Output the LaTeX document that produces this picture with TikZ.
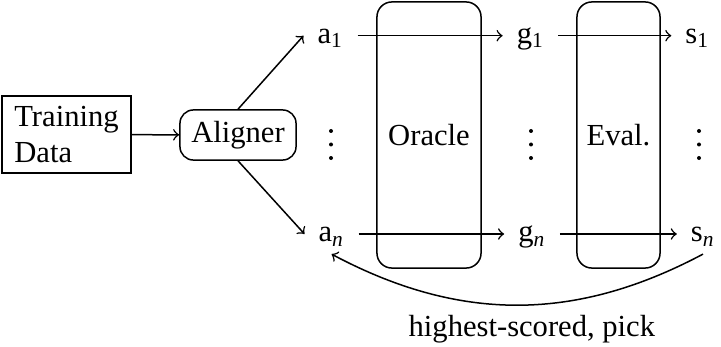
\documentclass[tikz,border=0pt]{standalone}
\usepackage{fontspec}
\setmainfont{Liberation Serif}
\begin{document}
\begin{tikzpicture}[x=0.33333pt,y=-0.33333pt,
  font=\fontsize{10.2}{12.2}\selectfont,
  box/.style={draw, line width=0.5pt, inner sep=0pt, align=center},
  var/.style={inner xsep=4.5pt, inner ysep=3pt, text height=6pt, text depth=1pt},
  arr/.style={->, line width=0.5pt},
  vdot/.style={fill=black}]
\useasboundingbox (0,0) rectangle (721,346);
\node[box, minimum width=43pt, minimum height=25.7pt, align=left] (train) at (66.5,134.5) {Training\\Data};
\node[box, rounded corners=4.5pt, minimum width=38.7pt, minimum height=16.7pt] (align) at (238,135) {Aligner};
\node[box, rounded corners=5pt, minimum width=34.7pt, minimum height=88.7pt] (oracle) at (429,135) {Oracle};
\node[box, rounded corners=5pt, minimum width=27.7pt, minimum height=88.7pt] (eval) at (618.5,135) {Eval.};
\node[var] (a1) at (330.5,35.7) {a\textsubscript{1}};
\node[var] (g1) at (530.5,35.7) {g\textsubscript{1}};
\node[var] (s1) at (697.5,35.7) {s\textsubscript{1}};
\node[var] (an) at (331.5,234) {a\textsubscript{\itshape n}};
\node[var] (gn) at (532,234) {g\textsubscript{\itshape n}};
\node[var] (sn) at (703,234) {s\textsubscript{\itshape n}};
\foreach \x in {331,531,699}
  \foreach \y in {131,144.5,158}
    \fill[vdot] (\x,\y) circle (2);
\draw[arr] (train) -- (align);
\draw[arr] (align.north) -- (a1.west);
\draw[arr] (align.south) -- (an.west);
\draw[arr] (a1) -- (g1);
\draw[arr] (g1) -- (s1);
\draw[arr] (an) -- (gn);
\draw[arr] (gn) -- (sn);
\draw[arr] (sn.south) to[bend left=28] node[pos=0.46, below] (lbl) {highest-scored, pick} (an.south);
\end{tikzpicture}
\end{document}
